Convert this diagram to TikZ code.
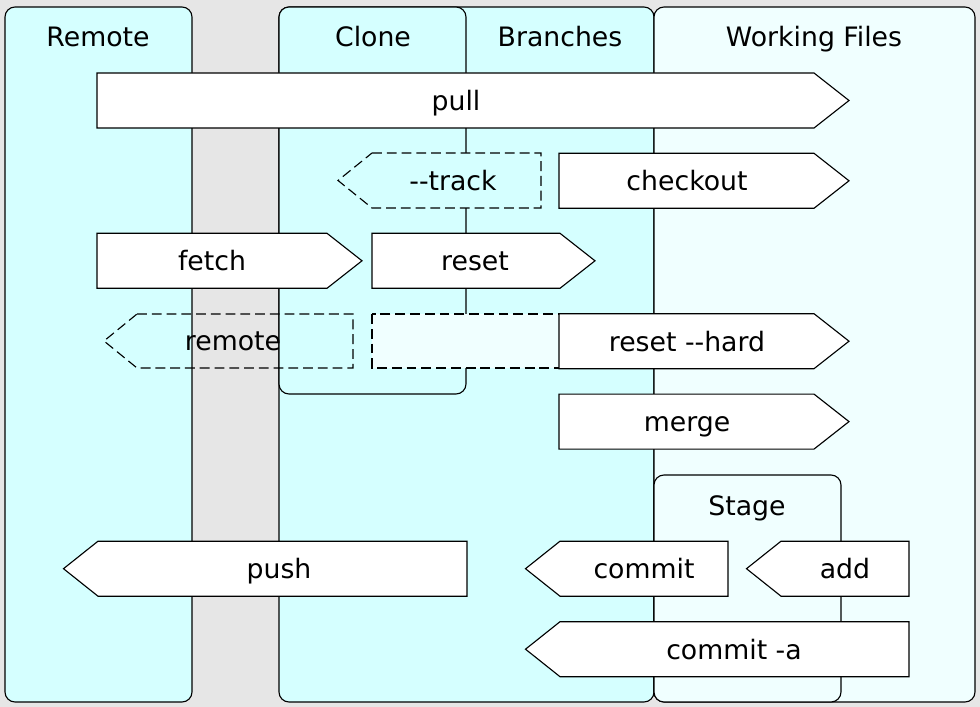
\documentclass[tikz,border=0pt]{standalone}
\usepackage{fontspec}
\setmainfont{DejaVu Sans}
\definecolor{lanecyan}{HTML}{D5FFFF}
\definecolor{laneazure}{HTML}{F0FFFF}
\definecolor{bggrey}{HTML}{E6E6E6}
\tikzset{
 lane/.style={draw,fill=lanecyan,rounded corners=0.25cm,line width=0.8pt},
 cmd/.style={draw,fill=white,line width=0.8pt,line join=miter},
 ghost/.style={draw,dash pattern=on 7pt off 3.5pt,line width=0.8pt},
 lbl/.style={anchor=base,inner sep=0pt,font=\fontsize{19}{22}\selectfont},
}
\begin{document}
\begin{tikzpicture}[x=0.025cm,y=-0.025cm]
\fill[bggrey] (0,0) rectangle (980,707);
% lanes
\draw[lane] (5,7) rectangle (192,702);
\draw[lane] (279,7) rectangle (654,702);
\draw[lane] (279,7) rectangle (466,394);
\draw[lane,fill=laneazure] (654,7) rectangle (975,702);
\draw[lane,fill=laneazure] (654,475) rectangle (841,702);
\foreach \x/\n/\t in {98/lremote/Remote,373/lclone/Clone,560/lbranch/Branches,814/lwork/Working Files} {
 \node[lbl] (\n) at (\x,47) {\t};
};
\node[lbl] (lstage) at (747,516) {Stage};
% dashed ones
\draw[ghost,fill=laneazure] (372,314) rectangle (652,368);
\draw[ghost,fill=lanecyan] (372,153)--(541,153)--(541,208)--(372,208)--(338,180.5)--cycle;
\draw[ghost] (137,314)--(353,314)--(353,368)--(137,368)--(104,341)--cycle;
\node[lbl] (track) at (453,190.5) {-\kern0pt-track};
\node[lbl] (rmt) at (233,351) {remote};
% commands to the right
\foreach \a/\b/\c/\tx/\t [count=\i] in {97/814/100.5/456/pull, 559/814/180.8/687/checkout, 97/327/260.8/212/fetch, 372/560/260.8/475/reset, 559/814/341.2/687/reset -\kern0pt-hard, 559/814/421.6/687/merge} {
 \draw[cmd] (\a,\c-27.5)--(\b,\c-27.5)--(\b+35,\c)--(\b,\c+27.5)--(\a,\c+27.5)--cycle;
 \node[lbl] (go\i) at (\tx,\c+10) {\t};
};
% commands to the left
\foreach \a/\b/\c/\tx/\t [count=\i] in {98/467/568.7/279/push, 560/728/568.7/644/commit, 781/909/568.7/845/add, 560/909/649.2/734/commit -a} {
 \draw[cmd] (\a,\c-27.5)--(\b,\c-27.5)--(\b,\c+27.5)--(\a,\c+27.5)--(\a-34.5,\c)--cycle;
 \node[lbl] (back\i) at (\tx,\c+10) {\t};
};
\end{tikzpicture}
\end{document}
